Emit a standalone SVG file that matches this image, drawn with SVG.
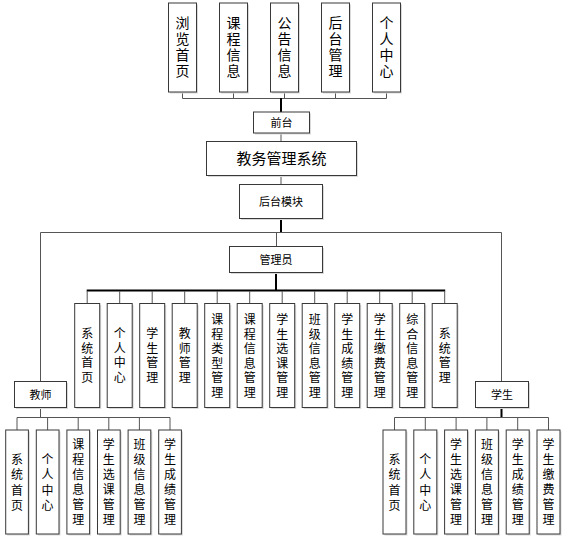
<svg xmlns="http://www.w3.org/2000/svg" width="568" height="543" viewBox="0 0 568 543">
<style>
.bx{fill:#fff;stroke:#383838;stroke-width:1}
.sh{fill:#dadada}
.ln{fill:none;stroke:#555;stroke-width:1}
.tk{fill:none;stroke:#000;stroke-width:2}
text{font-family:"Liberation Sans","Noto Sans CJK SC",sans-serif;fill:#000;text-anchor:middle}
.t14{font-size:14px}
.t12{font-size:12px}
.t11{font-size:11px}
.t15{font-size:15px}
</style>
<rect width="568" height="543" fill="#fff"/>
<g id="connectors">
<path class="ln" d="M182.5 92V98.5M233.5 92V98.5M284.5 92V98.5M335.5 92V98.5M386.5 92V98.5M182.5 98.5H386.5"/>
<path class="tk" d="M281 98V112"/>
<path class="ln" d="M281 133V141M281 176V184"/>
<path class="tk" d="M281 218V233"/>
<path class="ln" d="M40.5 232.5H501.5M276.5 232.5V247M40.5 232.5V382M501.5 232.5V382"/>
<path class="tk" d="M276 273V291M86.7 290.5H445.2"/>
<path class="ln" d="M87.2 291V303M119.7 291V303M152.2 291V303M184.7 291V303M217.2 291V303M249.7 291V303M282.2 291V303M314.7 291V303M347.2 291V303M379.7 291V303M412.2 291V303M444.7 291V303"/>
<path class="ln" d="M40.5 408V417.5M17 417.5H170M17 417.5V430M47.6 417.5V430M78.2 417.5V430M108.8 417.5V430M139.4 417.5V430M170 417.5V430"/>
<path class="tk" d="M501.5 408V418"/>
<path class="ln" d="M394.5 417.5H548.5M394.5 417.5V430M425.3 417.5V430M456.1 417.5V430M486.9 417.5V430M517.7 417.5V430M548.5 417.5V430"/>
</g>
<g id="top-1"><rect class="sh" x="170" y="4.5" width="28" height="89"/><rect class="bx" x="168.5" y="3" width="28" height="89"/><text class="t14"><tspan x="182.5" y="28">浏</tspan><tspan x="182.5" y="44">览</tspan><tspan x="182.5" y="60">首</tspan><tspan x="182.5" y="76">页</tspan></text></g>
<g id="top-2"><rect class="sh" x="221" y="4.5" width="28" height="89"/><rect class="bx" x="219.5" y="3" width="28" height="89"/><text class="t14"><tspan x="233.5" y="28">课</tspan><tspan x="233.5" y="44">程</tspan><tspan x="233.5" y="60">信</tspan><tspan x="233.5" y="76">息</tspan></text></g>
<g id="top-3"><rect class="sh" x="272" y="4.5" width="28" height="89"/><rect class="bx" x="270.5" y="3" width="28" height="89"/><text class="t14"><tspan x="284.5" y="28">公</tspan><tspan x="284.5" y="44">告</tspan><tspan x="284.5" y="60">信</tspan><tspan x="284.5" y="76">息</tspan></text></g>
<g id="top-4"><rect class="sh" x="323" y="4.5" width="28" height="89"/><rect class="bx" x="321.5" y="3" width="28" height="89"/><text class="t14"><tspan x="335.5" y="28">后</tspan><tspan x="335.5" y="44">台</tspan><tspan x="335.5" y="60">管</tspan><tspan x="335.5" y="76">理</tspan></text></g>
<g id="top-5"><rect class="sh" x="374" y="4.5" width="28" height="89"/><rect class="bx" x="372.5" y="3" width="28" height="89"/><text class="t14"><tspan x="386.5" y="28">个</tspan><tspan x="386.5" y="44">人</tspan><tspan x="386.5" y="60">中</tspan><tspan x="386.5" y="76">心</tspan></text></g>
<g id="qiantai"><rect class="sh" x="255" y="113.5" width="56" height="21"/><rect class="bx" x="253.5" y="112" width="56" height="21"/><text class="t11" x="281.5" y="126.5">前台</text></g>
<g id="system"><rect class="sh" x="208" y="143" width="150" height="34"/><rect class="bx" x="206.5" y="141.5" width="150" height="34"/><text class="t15" x="281.5" y="164">教务管理系统</text></g>
<g id="houtai"><rect class="sh" x="241" y="186" width="83" height="34"/><rect class="bx" x="239.5" y="184.5" width="83" height="34"/><text class="t11" x="281" y="205.5">后台模块</text></g>
<g id="admin"><rect class="sh" x="231" y="248" width="93" height="26"/><rect class="bx" x="229.5" y="246.5" width="93" height="26"/><text class="t11" x="276" y="263.5">管理员</text></g>
<g id="teacher"><rect class="sh" x="16" y="383" width="52" height="26"/><rect class="bx" x="14.5" y="381.5" width="52" height="26"/><text class="t11" x="40.5" y="398.5">教师</text></g>
<g id="student"><rect class="sh" x="477" y="383" width="53" height="26"/><rect class="bx" x="475.5" y="381.5" width="53" height="26"/><text class="t11" x="502" y="398.5">学生</text></g>
<g id="a1"><rect class="sh" x="76.2" y="305" width="25" height="104"/><rect class="bx" x="74.7" y="303.5" width="25" height="104"/><text class="t12"><tspan x="87.2" y="338">系</tspan><tspan x="87.2" y="352.5">统</tspan><tspan x="87.2" y="367">首</tspan><tspan x="87.2" y="381.5">页</tspan></text></g>
<g id="a2"><rect class="sh" x="108.7" y="305" width="25" height="104"/><rect class="bx" x="107.2" y="303.5" width="25" height="104"/><text class="t12"><tspan x="119.7" y="338">个</tspan><tspan x="119.7" y="352.5">人</tspan><tspan x="119.7" y="367">中</tspan><tspan x="119.7" y="381.5">心</tspan></text></g>
<g id="a3"><rect class="sh" x="141.2" y="305" width="25" height="104"/><rect class="bx" x="139.7" y="303.5" width="25" height="104"/><text class="t12"><tspan x="152.2" y="338">学</tspan><tspan x="152.2" y="352.5">生</tspan><tspan x="152.2" y="367">管</tspan><tspan x="152.2" y="381.5">理</tspan></text></g>
<g id="a4"><rect class="sh" x="173.7" y="305" width="25" height="104"/><rect class="bx" x="172.2" y="303.5" width="25" height="104"/><text class="t12"><tspan x="184.7" y="338">教</tspan><tspan x="184.7" y="352.5">师</tspan><tspan x="184.7" y="367">管</tspan><tspan x="184.7" y="381.5">理</tspan></text></g>
<g id="a5"><rect class="sh" x="206.2" y="305" width="25" height="104"/><rect class="bx" x="204.7" y="303.5" width="25" height="104"/><text class="t12"><tspan x="217.2" y="324">课</tspan><tspan x="217.2" y="338.5">程</tspan><tspan x="217.2" y="353">类</tspan><tspan x="217.2" y="367.5">型</tspan><tspan x="217.2" y="382">管</tspan><tspan x="217.2" y="396.5">理</tspan></text></g>
<g id="a6"><rect class="sh" x="238.7" y="305" width="25" height="104"/><rect class="bx" x="237.2" y="303.5" width="25" height="104"/><text class="t12"><tspan x="249.7" y="324">课</tspan><tspan x="249.7" y="338.5">程</tspan><tspan x="249.7" y="353">信</tspan><tspan x="249.7" y="367.5">息</tspan><tspan x="249.7" y="382">管</tspan><tspan x="249.7" y="396.5">理</tspan></text></g>
<g id="a7"><rect class="sh" x="271.2" y="305" width="25" height="104"/><rect class="bx" x="269.7" y="303.5" width="25" height="104"/><text class="t12"><tspan x="282.2" y="324">学</tspan><tspan x="282.2" y="338.5">生</tspan><tspan x="282.2" y="353">选</tspan><tspan x="282.2" y="367.5">课</tspan><tspan x="282.2" y="382">管</tspan><tspan x="282.2" y="396.5">理</tspan></text></g>
<g id="a8"><rect class="sh" x="303.7" y="305" width="25" height="104"/><rect class="bx" x="302.2" y="303.5" width="25" height="104"/><text class="t12"><tspan x="314.7" y="324">班</tspan><tspan x="314.7" y="338.5">级</tspan><tspan x="314.7" y="353">信</tspan><tspan x="314.7" y="367.5">息</tspan><tspan x="314.7" y="382">管</tspan><tspan x="314.7" y="396.5">理</tspan></text></g>
<g id="a9"><rect class="sh" x="336.2" y="305" width="25" height="104"/><rect class="bx" x="334.7" y="303.5" width="25" height="104"/><text class="t12"><tspan x="347.2" y="324">学</tspan><tspan x="347.2" y="338.5">生</tspan><tspan x="347.2" y="353">成</tspan><tspan x="347.2" y="367.5">绩</tspan><tspan x="347.2" y="382">管</tspan><tspan x="347.2" y="396.5">理</tspan></text></g>
<g id="a10"><rect class="sh" x="368.7" y="305" width="25" height="104"/><rect class="bx" x="367.2" y="303.5" width="25" height="104"/><text class="t12"><tspan x="379.7" y="324">学</tspan><tspan x="379.7" y="338.5">生</tspan><tspan x="379.7" y="353">缴</tspan><tspan x="379.7" y="367.5">费</tspan><tspan x="379.7" y="382">管</tspan><tspan x="379.7" y="396.5">理</tspan></text></g>
<g id="a11"><rect class="sh" x="401.2" y="305" width="25" height="104"/><rect class="bx" x="399.7" y="303.5" width="25" height="104"/><text class="t12"><tspan x="412.2" y="324">综</tspan><tspan x="412.2" y="338.5">合</tspan><tspan x="412.2" y="353">信</tspan><tspan x="412.2" y="367.5">息</tspan><tspan x="412.2" y="382">管</tspan><tspan x="412.2" y="396.5">理</tspan></text></g>
<g id="a12"><rect class="sh" x="433.7" y="305" width="25" height="104"/><rect class="bx" x="432.2" y="303.5" width="25" height="104"/><text class="t12"><tspan x="444.7" y="338">系</tspan><tspan x="444.7" y="352.5">统</tspan><tspan x="444.7" y="367">管</tspan><tspan x="444.7" y="381.5">理</tspan></text></g>
<g id="t1"><rect class="sh" x="7.2" y="431.5" width="22.7" height="104"/><rect class="bx" x="5.7" y="430" width="22.7" height="104"/><text class="t12"><tspan x="17" y="463.5">系</tspan><tspan x="17" y="479">统</tspan><tspan x="17" y="494.5">首</tspan><tspan x="17" y="510">页</tspan></text></g>
<g id="t2"><rect class="sh" x="37.8" y="431.5" width="22.7" height="104"/><rect class="bx" x="36.3" y="430" width="22.7" height="104"/><text class="t12"><tspan x="47.6" y="463.5">个</tspan><tspan x="47.6" y="479">人</tspan><tspan x="47.6" y="494.5">中</tspan><tspan x="47.6" y="510">心</tspan></text></g>
<g id="t3"><rect class="sh" x="68.4" y="431.5" width="22.7" height="104"/><rect class="bx" x="66.9" y="430" width="22.7" height="104"/><text class="t12"><tspan x="78.2" y="449">课</tspan><tspan x="78.2" y="464">程</tspan><tspan x="78.2" y="479">信</tspan><tspan x="78.2" y="494">息</tspan><tspan x="78.2" y="509">管</tspan><tspan x="78.2" y="524">理</tspan></text></g>
<g id="t4"><rect class="sh" x="99" y="431.5" width="22.7" height="104"/><rect class="bx" x="97.5" y="430" width="22.7" height="104"/><text class="t12"><tspan x="108.8" y="449">学</tspan><tspan x="108.8" y="464">生</tspan><tspan x="108.8" y="479">选</tspan><tspan x="108.8" y="494">课</tspan><tspan x="108.8" y="509">管</tspan><tspan x="108.8" y="524">理</tspan></text></g>
<g id="t5"><rect class="sh" x="129.6" y="431.5" width="22.7" height="104"/><rect class="bx" x="128.1" y="430" width="22.7" height="104"/><text class="t12"><tspan x="139.4" y="449">班</tspan><tspan x="139.4" y="464">级</tspan><tspan x="139.4" y="479">信</tspan><tspan x="139.4" y="494">息</tspan><tspan x="139.4" y="509">管</tspan><tspan x="139.4" y="524">理</tspan></text></g>
<g id="t6"><rect class="sh" x="160.2" y="431.5" width="22.7" height="104"/><rect class="bx" x="158.7" y="430" width="22.7" height="104"/><text class="t12"><tspan x="170" y="449">学</tspan><tspan x="170" y="464">生</tspan><tspan x="170" y="479">成</tspan><tspan x="170" y="494">绩</tspan><tspan x="170" y="509">管</tspan><tspan x="170" y="524">理</tspan></text></g>
<g id="s1"><rect class="sh" x="384.5" y="431.5" width="23" height="104"/><rect class="bx" x="383" y="430" width="23" height="104"/><text class="t12"><tspan x="394.5" y="463.5">系</tspan><tspan x="394.5" y="479">统</tspan><tspan x="394.5" y="494.5">首</tspan><tspan x="394.5" y="510">页</tspan></text></g>
<g id="s2"><rect class="sh" x="415.3" y="431.5" width="23" height="104"/><rect class="bx" x="413.8" y="430" width="23" height="104"/><text class="t12"><tspan x="425.3" y="463.5">个</tspan><tspan x="425.3" y="479">人</tspan><tspan x="425.3" y="494.5">中</tspan><tspan x="425.3" y="510">心</tspan></text></g>
<g id="s3"><rect class="sh" x="446.1" y="431.5" width="23" height="104"/><rect class="bx" x="444.6" y="430" width="23" height="104"/><text class="t12"><tspan x="456.1" y="449">学</tspan><tspan x="456.1" y="464">生</tspan><tspan x="456.1" y="479">选</tspan><tspan x="456.1" y="494">课</tspan><tspan x="456.1" y="509">管</tspan><tspan x="456.1" y="524">理</tspan></text></g>
<g id="s4"><rect class="sh" x="476.9" y="431.5" width="23" height="104"/><rect class="bx" x="475.4" y="430" width="23" height="104"/><text class="t12"><tspan x="486.9" y="449">班</tspan><tspan x="486.9" y="464">级</tspan><tspan x="486.9" y="479">信</tspan><tspan x="486.9" y="494">息</tspan><tspan x="486.9" y="509">管</tspan><tspan x="486.9" y="524">理</tspan></text></g>
<g id="s5"><rect class="sh" x="507.7" y="431.5" width="23" height="104"/><rect class="bx" x="506.2" y="430" width="23" height="104"/><text class="t12"><tspan x="517.7" y="449">学</tspan><tspan x="517.7" y="464">生</tspan><tspan x="517.7" y="479">成</tspan><tspan x="517.7" y="494">绩</tspan><tspan x="517.7" y="509">管</tspan><tspan x="517.7" y="524">理</tspan></text></g>
<g id="s6"><rect class="sh" x="538.5" y="431.5" width="23" height="104"/><rect class="bx" x="537" y="430" width="23" height="104"/><text class="t12"><tspan x="548.5" y="449">学</tspan><tspan x="548.5" y="464">生</tspan><tspan x="548.5" y="479">缴</tspan><tspan x="548.5" y="494">费</tspan><tspan x="548.5" y="509">管</tspan><tspan x="548.5" y="524">理</tspan></text></g>
</svg>
